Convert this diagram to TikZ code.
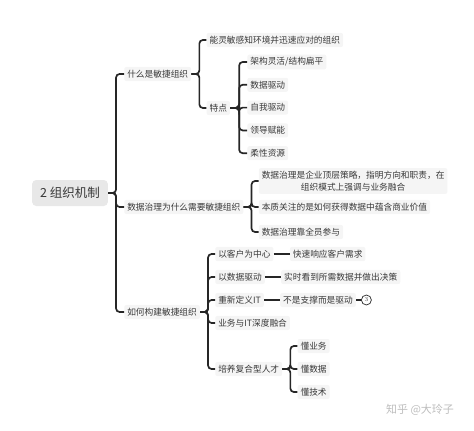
\documentclass[tikz,border=0pt]{standalone}
\usepackage{fontspec}
\newfontfamily\cjk{Noto Sans CJK SC}
\usetikzlibrary{positioning}
\definecolor{txtgrey}{HTML}{383838}
\definecolor{linegrey}{HTML}{262626}
\definecolor{boxfill}{HTML}{F5F5F5}
\definecolor{rootfill}{HTML}{E8E8E8}
\definecolor{markgrey}{HTML}{BDBDBD}

\begin{document}
\begin{tikzpicture}[x = 1pt, y = -1pt, % one unit = one pixel, y grows down
                link/.style = {draw = linegrey, line width = 1.7pt,
                rounded corners = 3.5pt}, % bracket lines
                node distance = 15pt
            ]

            \tikzstyle{topic}=[fill = boxfill, rounded corners = 2pt,
            text = txtgrey, inner xsep = 3pt, inner ysep = 3pt, anchor = west,
            font = \cjk\fontsize{8.7}{11.5}\selectfont]
            \tikzstyle{mainbox}=[topic, fill = rootfill, anchor = center,
            rounded corners = 4pt, minimum height = 26pt, inner xsep = 8pt,
            font = \cjk\fontsize{12.5}{14}\selectfont]

            \useasboundingbox (0,0) rectangle (474,431);

            \node[mainbox] (org) at (70,193) {2 组织机制};

            % first level
            \node[topic, right=16pt of org.east, yshift=119pt] (what) {什么是敏捷组织};
            \node[topic, right=16pt of org.east, yshift=-14pt] (why) {数据治理为什么需要敏捷组织};
            \node[topic, right=16pt of org.east, yshift=-119pt] (how) {如何构建敏捷组织};

            % what is an agile organisation
            \node[topic, right=of what.east, yshift=34pt] (sense) {能灵敏感知环境并迅速应对的组织};
            \node[topic, below=68pt of sense.west, anchor=west] (trait) {特点};
            \node[topic, right=17pt of trait.east, yshift=46pt] (t1) {架构灵活/结构扁平};
            \node[topic, below=22.8pt of t1.west, anchor=west] (t2) {数据驱动};
            \node[topic, below=22.8pt of t2.west, anchor=west] (t3) {自我驱动};
            \node[topic, below=22.8pt of t3.west, anchor=west] (t4) {领导赋能};
            \node[topic, below=22.8pt of t4.west, anchor=west] (t5) {柔性资源};

            % why
            \node[topic, right=of why.east, yshift=26pt, align=center] (gov)
            {数据治理是企业顶层策略，指明方向和职责，在\\组织模式上强调与业务融合};
            \node[topic, below=26pt of gov.west, anchor=west] (value) {本质关注的是如何获得数据中蕴含商业价值};
            \node[topic, below=25pt of value.west, anchor=west] (all) {数据治理靠全员参与};

            % how
            \node[topic, right=of how.east, yshift=58pt] (cust) {以客户为中心};
            \node[topic, below=23pt of cust.west, anchor=west] (data) {以数据驱动};
            \node[topic, below=23pt of data.west, anchor=west] (redef) {重新定义IT};
            \node[topic, below=23pt of redef.west, anchor=west] (fuse) {业务与IT深度融合};
            \node[topic, below=46pt of fuse.west, anchor=west] (talent) {培养复合型人才};

            \node[topic, right=16pt of cust.east] (quick) {快速响应客户需求};
            \node[topic, right=16pt of data.east] (live) {实时看到所需数据并做出决策};
            \node[topic, right=16pt of redef.east] (notsup) {不是支撑而是驱动};
            \node[draw = linegrey, circle, line width = 0.7pt, inner sep = 0pt,
            minimum size = 10pt, text = txtgrey, font = \fontsize{6}{6}\selectfont,
            right=5pt of notsup.east] (note) {3};

            \node[topic, right=of talent.east, yshift=23pt] (k1) {懂业务};
            \node[topic, below=23pt of k1.west, anchor=west] (k2) {懂数据};
            \node[topic, below=23pt of k2.west, anchor=west] (k3) {懂技术};

            \node[text = markgrey, font = \cjk\fontsize{11}{12}\selectfont] (mark)
            at (420,410) {知乎 @大玲子};

            % brackets
            \foreach \n in {what, why, how} \draw[link] (org.east) -- ++(8,0) |- (\n.west);
            \foreach \n in {sense, trait} \draw[link] (what.east) -- ++(8,0) |- (\n.west);
            \foreach \n in {t1, t2, t3, t4, t5} \draw[link] (trait.east) -- ++(9,0) |- (\n.west);
            \foreach \n in {gov, value, all} \draw[link] (why.east) -- ++(8,0) |- (\n.west);
            \foreach \n in {cust, data, redef, fuse, talent} \draw[link] (how.east) -- ++(8,0) |- (\n.west);
            \foreach \n in {k1, k2, k3} \draw[link] (talent.east) -- ++(8,0) |- (\n.west);

            \draw[link] (cust) -- (quick); \draw[link] (data) -- (live);
            \draw[link] (redef) -- (notsup); \draw[link] (notsup) -- (note);
\end{tikzpicture}
\end{document}
